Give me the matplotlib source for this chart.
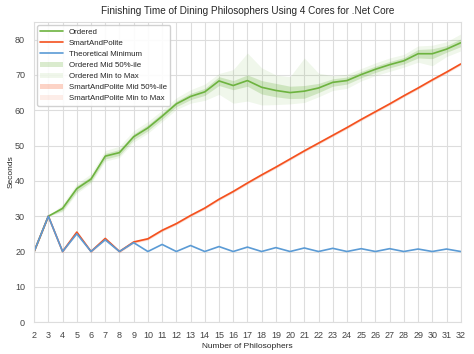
import numpy as np
import matplotlib
matplotlib.use('Agg')
import matplotlib.pyplot as plt
import seaborn as sns

# Number of philosophers
philosophers = list(range(2, 33))

# Ordered (median and bands)
ordered_median = [20, 30, 32.2, 37.8, 40.5, 47.0, 48.0, 52.5, 55.0, 58.3, 61.8,
                  63.9, 65.2, 68.3, 67.0, 68.4, 66.5, 65.6, 65.0, 65.4, 66.3,
                  67.9, 68.4, 70.1, 71.6, 72.9, 74.0, 76.0, 76.0, 77.3, 79.1]
ordered_q25 = [20, 30, 31.6, 37.0, 39.8, 46.2, 47.2, 51.7, 54.2, 57.5, 61.0,
               63.0, 64.2, 67.0, 65.8, 66.8, 64.6, 63.8, 63.3, 63.4, 65.0,
               66.8, 67.4, 69.2, 70.7, 72.0, 73.1, 74.8, 74.6, 76.4, 78.0]
ordered_q75 = [20, 30, 32.9, 38.6, 41.3, 47.8, 48.9, 53.3, 55.9, 59.2, 62.6,
               64.8, 66.2, 69.5, 68.4, 70.0, 68.4, 67.6, 66.8, 67.0, 67.6,
               68.9, 69.4, 71.0, 72.5, 73.8, 74.9, 77.2, 77.4, 78.3, 80.2]
ordered_min = [20, 30, 31.2, 36.5, 39.3, 45.6, 46.6, 51.0, 53.5, 56.8, 60.2,
               62.0, 62.8, 64.5, 62.0, 62.6, 61.5, 61.6, 61.8, 62.2, 63.8,
               65.6, 66.2, 68.3, 69.8, 71.0, 72.2, 73.6, 72.6, 75.2, 76.8]
ordered_max = [20, 30, 33.4, 39.2, 42.0, 48.6, 49.8, 54.2, 56.8, 60.0, 63.5,
               65.8, 67.4, 70.4, 71.5, 76.2, 72.0, 70.0, 69.5, 74.8, 70.5,
               69.8, 70.2, 71.8, 73.4, 74.8, 75.8, 78.2, 78.4, 79.4, 81.6]

# SmartAndPolite (median and bands)
smart_median = [20, 30, 20, 25.5, 20, 23.7, 20, 22.7, 23.6, 26.0, 27.9, 30.2,
                32.3, 34.8, 37.0, 39.4, 41.7, 43.9, 46.2, 48.5, 50.7, 52.9,
                55.1, 57.4, 59.6, 61.8, 64.1, 66.3, 68.6, 70.8, 73.1]
smart_spread = [0.2] * len(philosophers)
smart_range = [0.4] * len(philosophers)

# Theoretical minimum
theoretical_min = [20, 30, 20, 25, 20, 23.3, 20, 22.5, 20, 22.0, 20, 21.7,
                   20, 21.4, 20, 21.25, 20, 21.1, 20, 21.0, 20, 20.9,
                   20, 20.8, 20, 20.8, 20, 20.7, 20, 20.7, 20]

sns.set_style('whitegrid')
plt.rcParams['font.family'] = ['Liberation Sans', 'DejaVu Sans']

green = '#6db33f'
red = '#f4511e'
blue = '#5b9bd5'

fig = plt.figure(figsize=(4.74, 3.54), dpi=100)
ax = fig.add_axes([0.072, 0.09, 0.9, 0.848])

x = np.array(philosophers)
smart = np.array(smart_median)
sp = np.array(smart_spread)
sr = np.array(smart_range)

ax.plot(x, ordered_median, color=green, lw=1.2, label='Ordered')
ax.plot(x, smart_median, color=red, lw=1.2, label='SmartAndPolite')
ax.plot(x, theoretical_min, color=blue, lw=1.2, label='Theoretical Minimum')
ax.fill_between(x, ordered_q25, ordered_q75, color=green, alpha=0.25, lw=0,
                label='Ordered Mid 50%-ile')
ax.fill_between(x, ordered_min, ordered_max, color=green, alpha=0.1, lw=0,
                label='Ordered Min to Max')
ax.fill_between(x, smart - sp, smart + sp, color=red, alpha=0.25, lw=0,
                label='SmartAndPolite Mid 50%-ile')
ax.fill_between(x, smart - sr, smart + sr, color=red, alpha=0.1, lw=0,
                label='SmartAndPolite Min to Max')

ax.set_xlim(2, 32)
ax.set_ylim(0, 85)
ax.set_xticks(philosophers)
ax.set_yticks(range(0, 81, 10))
ax.tick_params(labelsize=6.5, pad=3, labelcolor='#444444')
ax.grid(True, color='#dddddd', lw=0.8)
for s in ax.spines.values():
    s.set_color('#dddddd')

ax.set_title('Finishing Time of Dining Philosophers Using 4 Cores for .Net Core',
             fontsize=7.2, pad=6)
ax.set_xlabel('Number of Philosophers', fontsize=6, labelpad=2)
ax.set_ylabel('Seconds', fontsize=6)
ax.yaxis.set_label_coords(-0.045, 0.5)
ax.legend(loc='upper left', fontsize=5.7, frameon=True, framealpha=0.9,
          borderaxespad=0.4, handlelength=2.8, labelspacing=0.45)

plt.savefig('out.png', dpi=100)
